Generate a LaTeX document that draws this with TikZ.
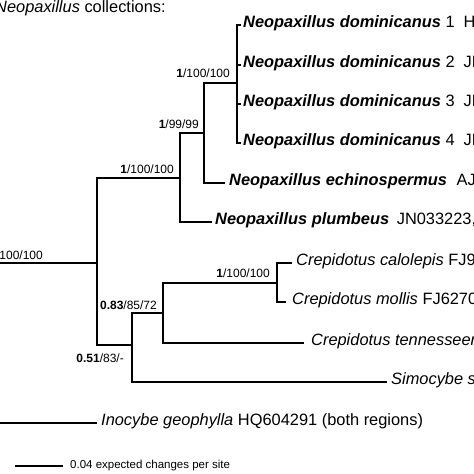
\documentclass[tikz,border=0pt]{standalone}
\usepackage{fontspec}
\setmainfont{Liberation Sans}
\begin{document}
\begin{tikzpicture}[x=1pt,y=-1pt,
	branch/.style={line width=1.6pt},
	taxon/.style={anchor=mid west,inner sep=0pt,xshift=4pt,font=\fontsize{16.4}{19}\selectfont},
	support/.style={anchor=base east,inner sep=0pt,font=\fontsize{12}{14}\selectfont}]
\useasboundingbox (0,0) rectangle (474,474);
\clip (0,0) rectangle (474,474);

\node[anchor=base west,inner sep=0pt,font=\fontsize{16.4}{19}\selectfont] (title) at (-5,12.5) {\textit{Neopaxillus} collections:};

% internal nodes
\coordinate (root) at (-20,343);
\coordinate (ingroup) at (97,263);
\coordinate (neo) at (180,178);
\coordinate (neo2) at (204,133);
\coordinate (dom) at (237,83);
\coordinate (crep0) at (132,345);
\coordinate (crep1) at (163,313);
\coordinate (crep2) at (277,283);

% tips
\coordinate (t-dom1) at (241,25);
\coordinate (t-dom2) at (241,65);
\coordinate (t-dom3) at (241,104);
\coordinate (t-dom4) at (241,143);
\coordinate (t-echi) at (225,183);
\coordinate (t-plum) at (212,222);
\coordinate (t-calo) at (292,263);
\coordinate (t-moll) at (286,302);
\coordinate (t-tenn) at (304,343);
\coordinate (t-simo) at (387,382);
\coordinate (t-inoc) at (97,423);

\draw[branch] (root) |- (ingroup);
\draw[branch] (root) |- (t-inoc);
\draw[branch] (ingroup) |- (neo);
\draw[branch] (ingroup) |- (crep0);
\draw[branch] (neo) |- (neo2);
\draw[branch] (neo) |- (t-plum);
\draw[branch] (neo2) |- (dom);
\draw[branch] (neo2) |- (t-echi);
\foreach \i in {1,...,4} {
	\draw[branch] (dom) |- (t-dom\i);
}
\draw[branch] (crep0) |- (crep1);
\draw[branch] (crep0) |- (t-simo);
\draw[branch] (crep1) |- (crep2);
\draw[branch] (crep1) |- (t-tenn);
\draw[branch] (crep2) |- (t-calo);
\draw[branch] (crep2) |- (t-moll);

\node[taxon,xshift=-2pt] (dom1) at (t-dom1) {\textbf{\textit{Neopaxillus dominicanus}} 1\hspace{9pt}H};
\node[taxon,xshift=-2pt] (dom2) at (t-dom2) {\textbf{\textit{Neopaxillus dominicanus}} 2\hspace{9pt}JN};
\node[taxon,xshift=-2pt] (dom3) at (t-dom3) {\textbf{\textit{Neopaxillus dominicanus}} 3\hspace{9pt}JN};
\node[taxon,xshift=-2pt] (dom4) at (t-dom4) {\textbf{\textit{Neopaxillus dominicanus}} 4\hspace{9pt}JN};
\node[taxon] (echi) at (t-echi) {\textbf{\textit{Neopaxillus echinospermus}}\hspace{5pt} AJ};
\node[taxon,xshift=-1pt] (plum) at (t-plum) {\textbf{\textit{Neopaxillus plumbeus}}\hspace{3pt} JN033223,};
\node[taxon] (calo) at (t-calo) {\textit{Crepidotus calolepis} FJ9};
\node[taxon,xshift=2pt] (moll) at (t-moll) {\textit{Crepidotus mollis} FJ6270};
\node[taxon,xshift=3pt] (tenn) at (t-tenn) {\textit{Crepidotus tennesseen}};
\node[taxon] (simo) at (t-simo) {\textit{Simocybe s}};
\node[taxon] (inoc) at (t-inoc) {\textit{Inocybe geophylla} HQ604291 (both regions)};

\node[support] (s-root) at (43,259) {100/100};
\node[support] (s-neo) at ([shift={(-6,-5)}]neo) {\textbf{1}/100/100};
\node[support] (s-neo2) at ([shift={(-5,-5)}]neo2) {\textbf{1}/99/99};
\node[support] (s-dom) at ([shift={(-7,-6)}]dom) {\textbf{1}/100/100};
\node[support] (s-crep2) at ([shift={(-7,-6)}]crep2) {\textbf{1}/100/100};
\node[support] (s-crep1) at ([shift={(-6,-4)}]crep1) {\textbf{0.83}/85/72};
\node[support] (s-crep0) at ([shift={(-8,17)}]crep0) {\textbf{0.51}/83/-};

% scale bar
\coordinate (sb-a) at (15,466);
\coordinate (sb-b) at (63,466);
\draw[branch] (sb-a) -- (sb-b);
\node[anchor=mid west,inner sep=0pt,font=\fontsize{11.5}{13}\selectfont] (sb) at ([xshift=7pt]sb-b) {0.04 expected changes per site};
\end{tikzpicture}
\end{document}
